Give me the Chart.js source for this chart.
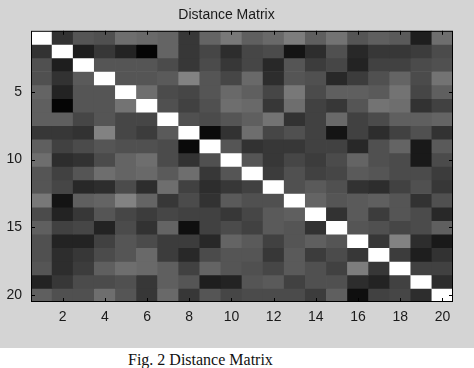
<!DOCTYPE html>
<html>
<head>
<meta charset="utf-8">
<script src="https://cdn.jsdelivr.net/npm/chart.js@4/dist/chart.umd.min.js"></script>
<style>
  html, body { margin: 0; padding: 0; background: #fff; }
  #fig { width: 474px; height: 348px; background: #d4d4d4; }
  #caption {
    position: absolute; left: 128px; top: 351px;
    font: 16px "Liberation Serif", "Times New Roman", serif; color: #111;
  }
</style>
</head>
<body>
<div id="fig"><canvas id="chart" width="474" height="348"></canvas></div>
<div id="caption">Fig. 2 Distance Matrix</div>
<script>
// column labels (1..20) and the y ticks shown
const colLabels = ["1","2","3","4","5","6","7","8","9","10","11","12","13","14","15","16","17","18","19","20"];
const yTicks = [5, 10, 15, 20];

// gray level of each cell, read row by row (255 = white diagonal)
const row1  = [255, 50, 85, 80,110,105,100, 55,100,120, 95,105,125, 95,115, 85, 95, 90, 30,110];
const row2  = [ 50,255, 30, 55, 35,  5,100, 55, 70, 45, 70, 75, 20, 45, 80, 40, 55, 55, 60, 75];
const row3  = [ 80, 30,255, 85, 85, 85, 75, 55, 75, 55, 70, 40, 85, 60, 70, 35, 65, 65, 75, 80];
const row4  = [ 80, 50, 90,255, 85, 85, 90,130, 85, 70,105, 45, 85, 80, 40, 60, 80,100, 75,115];
const row5  = [100, 35, 85, 85,255,110, 75, 70, 85,105, 95, 70,120, 75, 95, 95, 90,115, 70, 95];
const row6  = [ 95,  5, 85, 85,115,255, 80, 65, 80,110,105, 55,110, 65, 55, 85,115,110, 50, 65];
const row7  = [ 95, 95, 70, 85, 70, 70,255, 80, 75, 85, 95,115, 50, 65,105, 65, 75, 95, 95,100];
const row8  = [ 55, 55, 50,130, 70, 60, 90,255, 10, 50,110, 70, 80, 65, 20, 65, 45, 65, 80, 50];
const row9  = [ 95, 65, 75, 85, 80, 80, 75, 10,255, 85, 50, 55, 55, 65, 65, 40, 80,100, 25, 90];
const row10 = [110, 45, 50, 75,100,110, 75, 50, 80,255, 85, 55, 70, 60, 75,100, 80, 75, 25, 75];
const row11 = [ 85, 65, 85,110,100,105, 90,110, 55, 85,255, 60, 80, 65, 70, 90, 85, 75, 75, 60];
const row12 = [ 85, 70, 40, 45, 75, 45,110, 65, 45, 55, 65,255, 80, 90, 80, 50, 45, 65, 80, 55];
const row13 = [120, 20, 95,100,130,100, 55, 75, 50, 90, 80, 80,255,100, 85, 90, 95, 85, 50, 80];
const row14 = [ 75, 35, 55, 85, 70, 60, 70, 65, 65, 55, 70, 90, 95,255, 50, 90, 60, 85, 75, 40];
const row15 = [ 95, 65, 70, 35, 75, 50,100, 15, 65, 75, 65, 90, 85, 50,255, 85, 80, 70, 75, 95];
const row16 = [ 80, 35, 35, 65, 85, 75, 60, 60, 40,100, 90, 65, 85, 95, 85,255, 55,130, 45, 25];
const row17 = [ 80, 45, 55, 75, 85,105, 60, 40, 75, 85, 85, 55, 90, 60, 75, 55,255, 60, 30, 50];
const row18 = [ 85, 45, 60, 95,110,105, 95, 65,100, 85, 80, 70, 90, 80, 65,125, 55,255, 65, 65];
const row19 = [ 35, 55, 75, 75, 80, 55, 95, 85, 30, 35, 85, 90, 65, 80, 80, 45, 35, 65,255, 45];
const row20 = [ 95, 80, 80,110, 85, 55,105, 55, 85, 70, 75, 75, 75, 60, 95, 15, 65, 70, 45,255];

const matrix = [row1,row2,row3,row4,row5,row6,row7,row8,row9,row10,
                row11,row12,row13,row14,row15,row16,row17,row18,row19,row20];

function gray(v) { return "rgb(" + v + "," + v + "," + v + ")"; }

// each row is a dataset of floating bars spanning one unit on y
const datasets = matrix.map((row, i) => ({
  data: row.map(() => [i + 0.5, i + 1.5]),
  backgroundColor: row.map(gray),
  borderWidth: 0,
  barPercentage: 1,
  categoryPercentage: 1,
}));

const tickFont = { family: "'Liberation Sans', Arial, sans-serif", size: 14 };

// black box and inward ticks like matlab axes
const axesBox = {
  id: "axesBox",
  afterDraw(chart) {
    const { ctx, chartArea: a, scales } = chart;
    ctx.save();
    ctx.strokeStyle = "#000";
    ctx.lineWidth = 1;
    ctx.strokeRect(a.left + 0.5, a.top + 0.5, a.right - a.left - 1, a.bottom - a.top - 1);
    ctx.beginPath();
    colLabels.forEach((l, i) => {
      if ((i + 1) % 2) return;
      const x = Math.round(scales.x.getPixelForValue(i)) + 0.5;
      ctx.moveTo(x, a.bottom); ctx.lineTo(x, a.bottom - 4);
      ctx.moveTo(x, a.top); ctx.lineTo(x, a.top + 4);
    });
    yTicks.forEach((v) => {
      const y = Math.round(scales.y.getPixelForValue(v)) + 0.5;
      ctx.moveTo(a.left, y); ctx.lineTo(a.left + 4, y);
      ctx.moveTo(a.right, y); ctx.lineTo(a.right - 4, y);
    });
    ctx.stroke();
    ctx.restore();
  },
};

new Chart(document.getElementById("chart"), {
  type: "bar",
  data: { labels: colLabels, datasets },
  options: {
    responsive: false,
    animation: false,
    layout: { padding: { left: 0, right: 21, top: 0, bottom: 0 } },
    plugins: {
      legend: { display: false },
      tooltip: { enabled: false },
      title: {
        display: true,
        text: "Distance Matrix",
        color: "#1a1a1a",
        font: { family: tickFont.family, size: 14, weight: "normal" },
        padding: { top: 7, bottom: 7 },
      },
    },
    scales: {
      x: {
        stacked: true,
        grid: { display: false, drawTicks: false },
        border: { display: false },
        ticks: {
          color: "#1a1a1a",
          font: tickFont,
          padding: 7,
          maxRotation: 0,
          autoSkip: false,
          callback: (v, i) => ((i + 1) % 2 === 0 ? colLabels[i] : ""),
        },
        afterFit: (s) => { s.height = 46; },
      },
      y: {
        type: "linear",
        min: 0.5,
        max: 20.5,
        reverse: true,
        grid: { display: false, drawTicks: false },
        border: { display: false },
        afterBuildTicks: (s) => { s.ticks = yTicks.map((v) => ({ value: v })); },
        ticks: { color: "#1a1a1a", font: tickFont, padding: 9 },
        afterFit: (s) => { s.width = 31; },
      },
    },
  },
  plugins: [axesBox],
});
</script>
</body>
</html>
